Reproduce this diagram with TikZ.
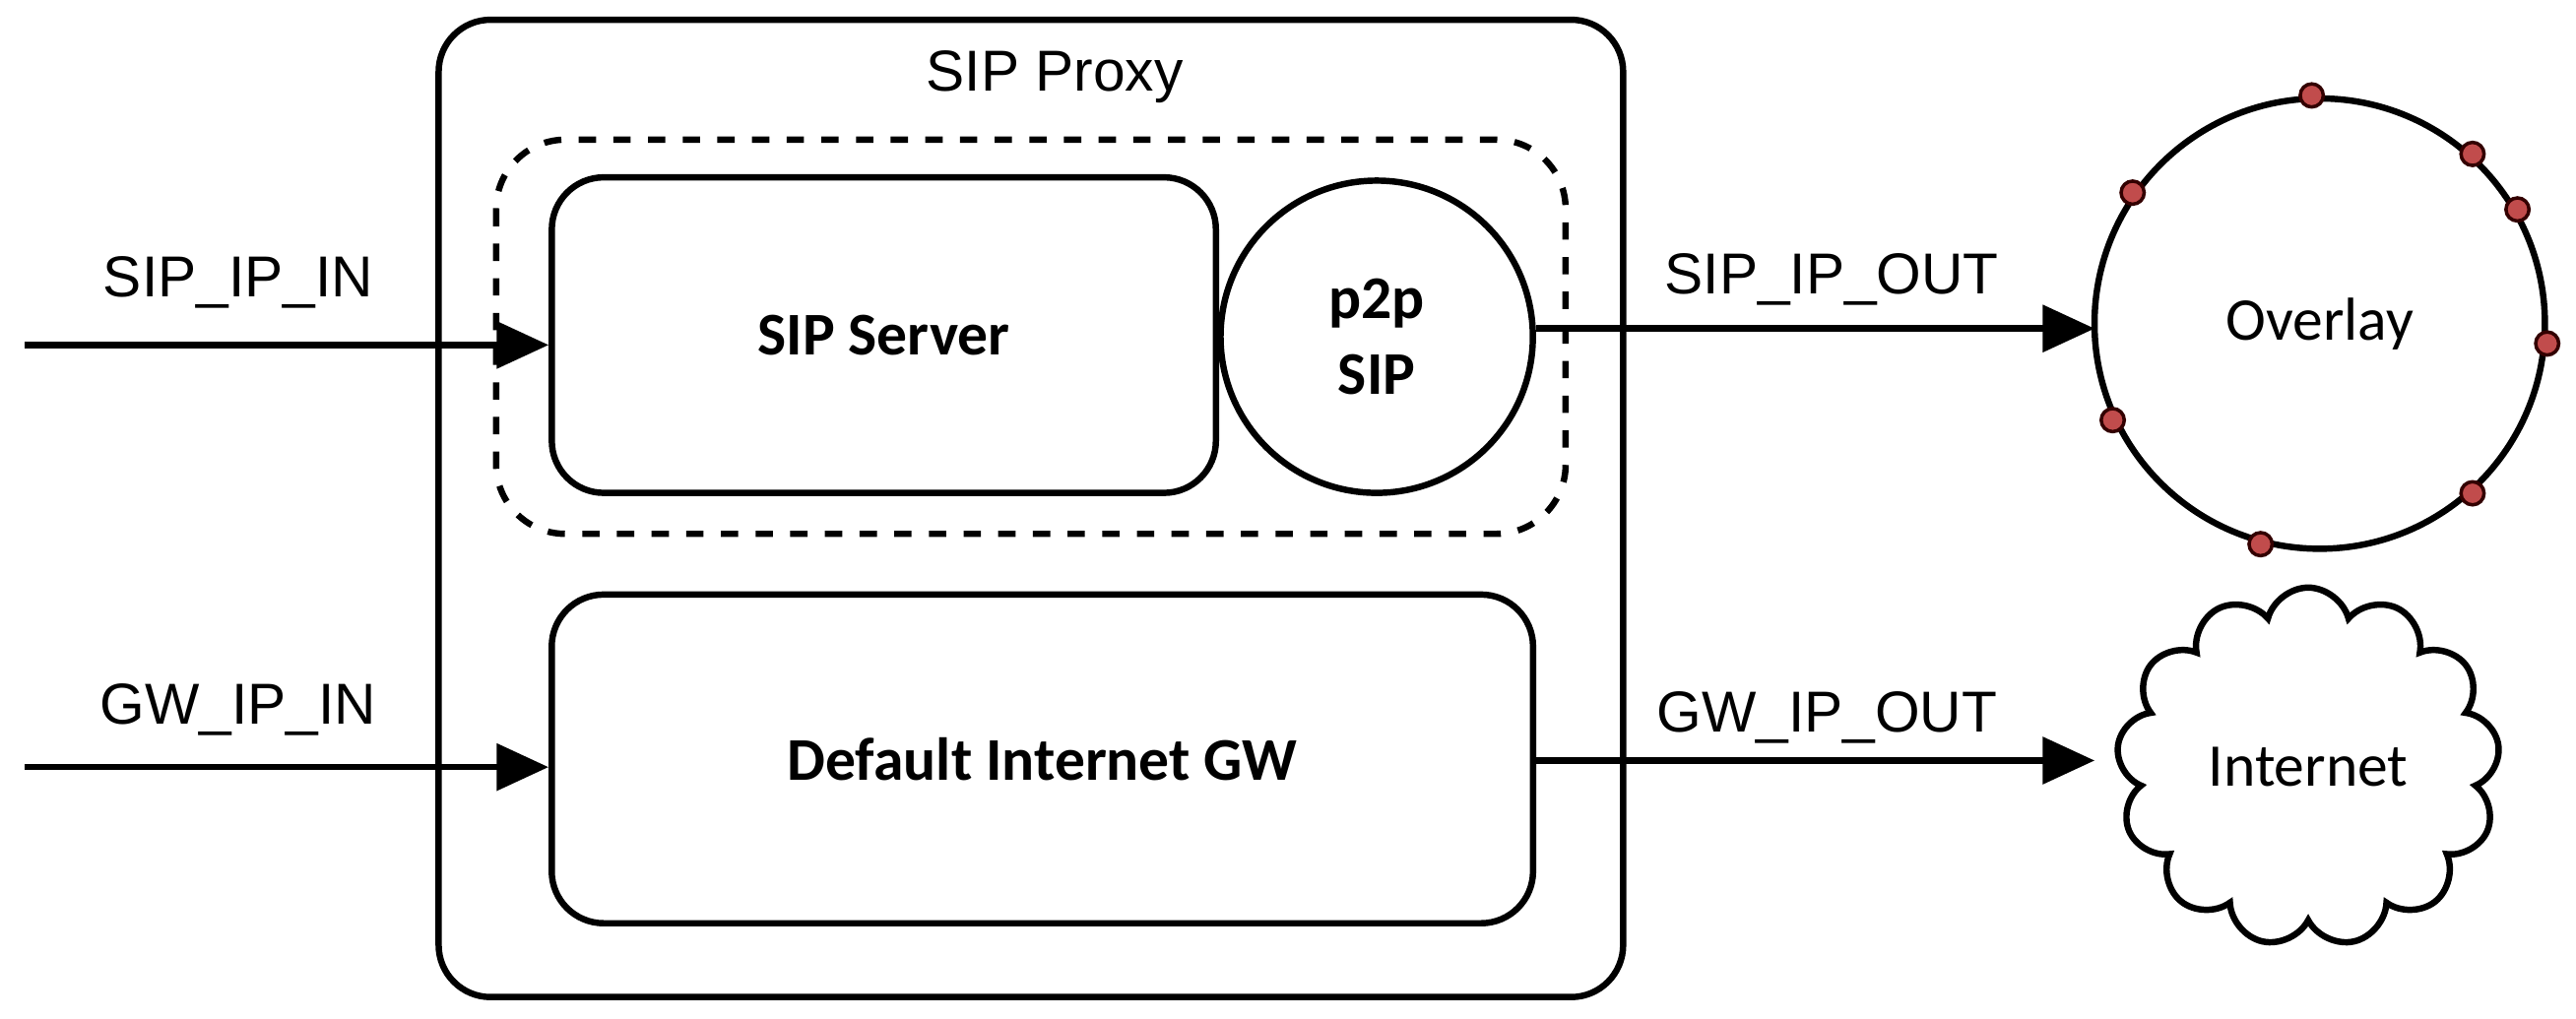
\documentclass[tikz,border=0pt]{standalone}
\usepackage{fontspec}
\setmainfont{Liberation Sans}
\newfontfamily\calibri{Carlito}
\usetikzlibrary{arrows.meta,shapes.symbols,positioning}

\tikzset{
    box/.style={draw, line width=1.1pt, rounded corners=9pt},
    flow/.style={line width=1.1pt, -{Triangle[length=9pt,width=8pt]}},
    lbl/.style={font=\fontsize{10}{12}\selectfont},
    peer/.style={circle, draw=black!80!red, fill=red!65!black!70!white, line width=0.6pt, inner sep=0pt, minimum size=4pt}
}

\begin{document}
\begin{tikzpicture}[x=0.01cm,y=-0.01cm]
    \useasboundingbox (0,0) rectangle (1568,620);

    % SIP proxy frame
    \draw[box] (267,12) rectangle (988,607);
    \node[lbl] (proxy) at (642,47) {SIP Proxy};
    \draw[line width=1.1pt, dashed, rounded corners=12pt] (302,85) rectangle (953,325);

    % inner blocks
    \node[box, minimum width=4.04cm, minimum height=1.92cm, font=\calibri\bfseries\fontsize{10.5}{12}\selectfont] (server) at (538,204) {SIP Server};
    \node[circle, draw, line width=1.1pt, minimum size=1.9cm, align=center, font=\calibri\bfseries\fontsize{10.5}{13}\selectfont] (p2p) at (838,205) {p2p\\SIP};
    \node[box, minimum width=5.97cm, minimum height=2cm, font=\calibri\bfseries\fontsize{10.5}{12}\selectfont] (gw) at (634.5,462) {Default Internet GW};

    % outside
    \node[circle, draw, line width=1.1pt, minimum size=2.74cm, font=\calibri\fontsize{10.5}{12}\selectfont] (overlay) at (1412,197) {Overlay};
    \foreach \a in {92,48,30,-5,-48,-105,-155,145}
        \node[peer] at (overlay.\a) {};
    \node[cloud, draw, line width=1.1pt, cloud puffs=13, aspect=1.1, minimum width=2.3cm, minimum height=2.1cm, font=\calibri\fontsize{10.5}{12}\selectfont] (inet) at (1405,467) {Internet};

    % connectors
    \coordinate (sipin) at (15,210);
    \coordinate (gwin) at (15,467);
    \coordinate (sipout) at (1275,200);
    \coordinate (gwout) at (1275,463);
    \draw[flow] (sipin) -- (sipin -| server.west);
    \draw[flow] (gwin) -- (gwin -| gw.west);
    \draw[flow] (p2p.east |- sipout) -- (sipout);
    \draw[flow] (gw.east |- gwout) -- (gwout);
    \node[lbl] at (145,172) {SIP\_IP\_IN};
    \node[lbl] at (145,432) {GW\_IP\_IN};
    \node[lbl] at (1115,170) {SIP\_IP\_OUT};
    \node[lbl] at (1112,437) {GW\_IP\_OUT};
\end{tikzpicture}
\end{document}
